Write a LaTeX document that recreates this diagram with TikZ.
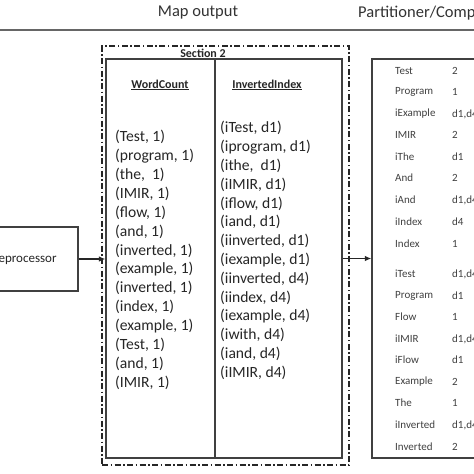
\documentclass[tikz,border=0pt]{standalone}
\usepackage{fontspec}
\setmainfont{Carlito}
\usetikzlibrary{arrows.meta}
\begin{document}
\begin{tikzpicture}[x=1pt,y=-1pt,
  box/.style={draw=black!75, line width=1.3pt, inner sep=0pt},
  dashbox/.style={draw=black!85, line width=1.5pt, dash pattern=on 6pt off 2.5pt on 1.5pt off 2.5pt, inner sep=0pt},
  txt/.style={anchor=west, inner sep=0pt, font=\fontsize{15.6}{18}\selectfont, text=black!85},
  tbl/.style={anchor=west, inner sep=0pt, font=\fontsize{11}{13}\selectfont, text=black!75},
  head/.style={inner sep=0pt, font=\fontsize{16.5}{19}\selectfont, text=black!80},
  ttl/.style={inner sep=0pt, font=\bfseries\fontsize{12}{14}\selectfont, text=black!85},
  arr/.style={draw=black!85, line width=1.2pt, -{Latex[length=6.5pt,width=5.5pt]}}]
\useasboundingbox (0,0) rectangle (474,474);
\clip (0,0) rectangle (474,474);
\fill[white] (0,0) rectangle (474,474);
% headers
\node[head] (hmap) at (198,13) {Map output};
\node[head, anchor=west] (hpart) at (358,13) {Partitioner/Comp};
\coordinate (hl1) at (-5,30);
\coordinate (hr1) at (480,30);
\draw[black!60, line width=1.3pt] (hl1) -- (hr1);
% boxes
\node[dashbox, minimum width=247pt, minimum height=419pt] (dash) at (225.5,255.5) {};
\node[box, minimum width=236pt, minimum height=399pt] (inner) at (224,258.5) {};
\coordinate (dt) at (215,59);
\coordinate (db) at (215,458);
\draw[black!75, line width=1.3pt] (dt) -- (db);
\node[ttl] (sec) at (203,53) {Section 2};
\node[ttl] (wc) at (160,85) {\underline{WordCount}};
\node[ttl] (ii) at (267,85) {\underline{InvertedIndex}};
% left column
\foreach [count=\i] \t in {(Test, 1),(program, 1),(the,~ 1),(IMIR, 1),(flow, 1),(and, 1),(inverted, 1),(example, 1),(inverted, 1),(index, 1),(example, 1),(Test, 1),(and, 1),(IMIR, 1)}
  \node[txt] (w\i) at (115,{137+(\i-1)*18.9}) {\t};
% right column
\foreach [count=\i] \t in {(iTest, d1),(iprogram, d1),(ithe,~ d1),(iIMIR, d1),(iflow, d1),(iand, d1),(iinverted, d1),(iexample, d1),(iinverted, d4),(iindex, d4),(iexample, d4),(iwith, d4),(iand, d4),(iIMIR, d4)}
  \node[txt] (v\i) at (220,{128+(\i-1)*18.85}) {\t};
% preprocessor
\node[box, minimum width=112pt, minimum height=64pt, font=\fontsize{13}{15}\selectfont, text=black!85] (pre) at (22,259) {Preprocessor};
\draw[arr] (pre.east) -- (pre.east -| inner.west);
% right box
\node[box, minimum width=128pt, minimum height=399pt] (rbox) at (436,258.5) {};
\draw[arr] (inner.east) -- (inner.east -| rbox.west);
\foreach [count=\i] \a/\b/\y in {Test/2/71, Program/1/92, iExample/{d1,d4}/114, IMIR/2/135, iThe/d1/157, And/2/178, iAnd/{d1,d4}/200, iIndex/d4/222, Index/1/244, iTest/{d1,d4}/274, Program/d1/296, Flow/1/317, iIMIR/{d1,d4}/339, iFlow/d1/360, Example/2/382, The/1/403, iInverted/{d1,d4}/425, Inverted/2/447}
{
  \node[tbl] (ra\i) at (395,\y) {\a};
  \node[tbl] (rb\i) at (452,\y) {\b};
}
\end{tikzpicture}
\end{document}
